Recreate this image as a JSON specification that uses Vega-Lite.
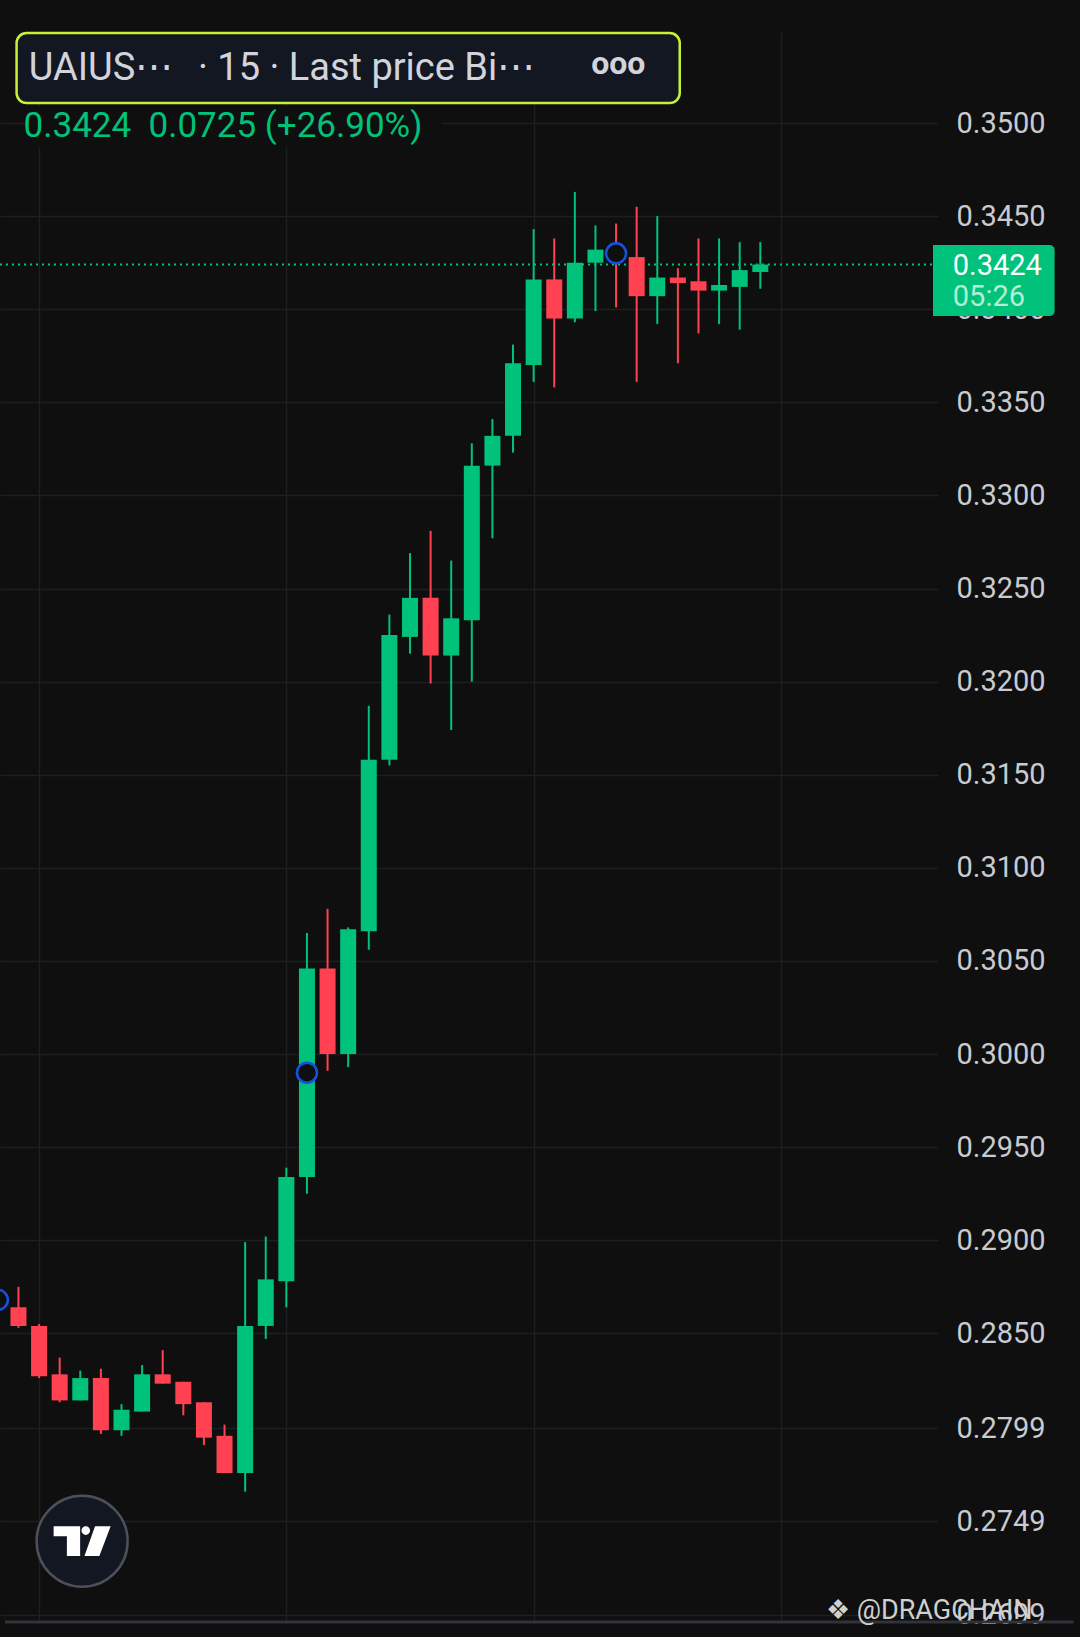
{
  "$schema": "https://vega.github.io/schema/vega-lite/v6.json",
  "background": "#0f0f0f",
  "autosize": {"type": "none"},
  "padding": {"left": 0, "top": 32, "right": 142, "bottom": 15},
  "width": 938,
  "height": 1590,
  "config": {"view": {"stroke": null}, "font": "Roboto", "text": {"font": "Roboto"}},
  "datasets": {
    "candles": [
      {"t": 0, "open": 0.2864, "high": 0.2875, "low": 0.2853, "close": 0.2854},
      {"t": 1, "open": 0.2854, "high": 0.2855, "low": 0.2826, "close": 0.2827},
      {"t": 2, "open": 0.2828, "high": 0.2837, "low": 0.2813, "close": 0.2814},
      {"t": 3, "open": 0.2814, "high": 0.2830, "low": 0.2814, "close": 0.2826},
      {"t": 4, "open": 0.2826, "high": 0.2831, "low": 0.2796, "close": 0.2798},
      {"t": 5, "open": 0.2798, "high": 0.2812, "low": 0.2795, "close": 0.2809},
      {"t": 6, "open": 0.2808, "high": 0.2833, "low": 0.2808, "close": 0.2828},
      {"t": 7, "open": 0.2828, "high": 0.2841, "low": 0.2823, "close": 0.2823},
      {"t": 8, "open": 0.2824, "high": 0.2824, "low": 0.2806, "close": 0.2812},
      {"t": 9, "open": 0.2813, "high": 0.2813, "low": 0.2790, "close": 0.2794},
      {"t": 10, "open": 0.2795, "high": 0.2801, "low": 0.2775, "close": 0.2775},
      {"t": 11, "open": 0.2775, "high": 0.2899, "low": 0.2765, "close": 0.2854},
      {"t": 12, "open": 0.2854, "high": 0.2902, "low": 0.2847, "close": 0.2879},
      {"t": 13, "open": 0.2878, "high": 0.2939, "low": 0.2864, "close": 0.2934},
      {"t": 14, "open": 0.2934, "high": 0.3065, "low": 0.2925, "close": 0.3046},
      {"t": 15, "open": 0.3046, "high": 0.3078, "low": 0.2991, "close": 0.3000},
      {"t": 16, "open": 0.3000, "high": 0.3068, "low": 0.2993, "close": 0.3067},
      {"t": 17, "open": 0.3066, "high": 0.3187, "low": 0.3056, "close": 0.3158},
      {"t": 18, "open": 0.3158, "high": 0.3236, "low": 0.3155, "close": 0.3225},
      {"t": 19, "open": 0.3224, "high": 0.3269, "low": 0.3215, "close": 0.3245},
      {"t": 20, "open": 0.3245, "high": 0.3281, "low": 0.3199, "close": 0.3214},
      {"t": 21, "open": 0.3214, "high": 0.3265, "low": 0.3174, "close": 0.3234},
      {"t": 22, "open": 0.3233, "high": 0.3328, "low": 0.3200, "close": 0.3316},
      {"t": 23, "open": 0.3316, "high": 0.3341, "low": 0.3277, "close": 0.3332},
      {"t": 24, "open": 0.3332, "high": 0.3381, "low": 0.3323, "close": 0.3371},
      {"t": 25, "open": 0.3370, "high": 0.3443, "low": 0.3361, "close": 0.3416},
      {"t": 26, "open": 0.3416, "high": 0.3438, "low": 0.3358, "close": 0.3395},
      {"t": 27, "open": 0.3395, "high": 0.3463, "low": 0.3393, "close": 0.3425},
      {"t": 28, "open": 0.3425, "high": 0.3445, "low": 0.3399, "close": 0.3432},
      {"t": 29, "open": 0.3432, "high": 0.3446, "low": 0.3401, "close": 0.3429},
      {"t": 30, "open": 0.3428, "high": 0.3455, "low": 0.3361, "close": 0.3407},
      {"t": 31, "open": 0.3407, "high": 0.3450, "low": 0.3392, "close": 0.3417},
      {"t": 32, "open": 0.3417, "high": 0.3422, "low": 0.3371, "close": 0.3414},
      {"t": 33, "open": 0.3415, "high": 0.3438, "low": 0.3387, "close": 0.3410},
      {"t": 34, "open": 0.3410, "high": 0.3438, "low": 0.3392, "close": 0.3413},
      {"t": 35, "open": 0.3412, "high": 0.3436, "low": 0.3389, "close": 0.3421},
      {"t": 36, "open": 0.3420, "high": 0.3436, "low": 0.3411, "close": 0.3424}
    ],
    "markers": [
      {"t": -1, "price": 0.2868},
      {"t": 14, "price": 0.2990},
      {"t": 29, "price": 0.3430}
    ]
  },
  "layer": [
    {
      "data": {"name": "candles"},
      "mark": {"type": "rule", "strokeWidth": 2},
      "encoding": {
        "x": {
          "field": "t",
          "type": "quantitative",
          "scale": {"domain": [-0.653, 44.38], "nice": false, "zero": false},
          "axis": {
            "values": [1, 13, 25, 37],
            "grid": true,
            "gridColor": "#1e1f22",
            "gridWidth": 1.5,
            "labels": false,
            "ticks": false,
            "domain": false,
            "title": null
          }
        },
        "y": {
          "field": "low",
          "type": "quantitative",
          "scale": {"domain": [0.2695, 0.354887], "nice": false, "zero": false},
          "axis": {
            "orient": "right",
            "values": [0.35, 0.345, 0.34, 0.335, 0.33, 0.325, 0.32, 0.315, 0.31, 0.305, 0.3, 0.295, 0.29, 0.285, 0.2799, 0.2749, 0.2699],
            "format": ".4f",
            "grid": true,
            "gridColor": "#1e1f22",
            "gridWidth": 1.5,
            "ticks": false,
            "domain": false,
            "labelPadding": 18,
            "labelFont": "Roboto",
            "labelFontSize": 29,
            "labelColor": "#c9cbd0",
            "title": null
          }
        },
        "y2": {"field": "high"},
        "color": {
          "condition": {"test": "datum.close >= datum.open", "value": "#00c27b"},
          "value": "#ff4152"
        }
      }
    },
    {
      "data": {"values": [{}]},
      "mark": {"type": "rule", "color": "#00c27b", "strokeWidth": 2, "strokeDash": [2, 4]},
      "encoding": {"y": {"datum": 0.3424}}
    },
    {
      "data": {"name": "candles"},
      "mark": {"type": "bar", "width": 16},
      "encoding": {
        "x": {"field": "t", "type": "quantitative"},
        "y": {"field": "open", "type": "quantitative"},
        "y2": {"field": "close"},
        "color": {
          "condition": {"test": "datum.close >= datum.open", "value": "#00c27b"},
          "value": "#ff4152"
        }
      }
    },
    {
      "data": {"name": "markers"},
      "mark": {"type": "point", "shape": "circle", "filled": true, "color": "#0f0f0f", "stroke": "#1652e0", "strokeWidth": 2.5, "size": 400, "opacity": 1},
      "encoding": {
        "x": {"field": "t", "type": "quantitative"},
        "y": {"field": "price", "type": "quantitative"}
      }
    },
    {
      "data": {"values": [{}]},
      "mark": {"type": "rect", "fill": "#131722", "stroke": "#c6f135", "strokeWidth": 2.5, "cornerRadius": 10},
      "encoding": {
        "x": {"datum": -0.091},
        "x2": {"datum": 32.09},
        "y": {"datum": 0.35483},
        "y2": {"datum": 0.35107}
      }
    },
    {
      "data": {"values": [{}]},
      "mark": {"type": "text", "text": "UAIUS⋯", "align": "left", "baseline": "alphabetic", "fontSize": 38, "color": "#d1d4dc"},
      "encoding": {"x": {"datum": 0.5}, "y": {"datum": 0.352309}}
    },
    {
      "data": {"values": [{}]},
      "mark": {"type": "text", "text": "· 15 · Last price Bi⋯", "align": "left", "baseline": "alphabetic", "fontSize": 38, "color": "#d1d4dc"},
      "encoding": {"x": {"datum": 8.71}, "y": {"datum": 0.352309}}
    },
    {
      "data": {"values": [{}]},
      "mark": {"type": "text", "text": "ooo", "align": "center", "baseline": "middle", "fontSize": 32, "fontWeight": "bold", "color": "#d1d4dc"},
      "encoding": {"x": {"datum": 29.11}, "y": {"datum": 0.35315}}
    },
    {
      "data": {"values": [{}]},
      "mark": {"type": "rect", "fill": "#0f0f0f"},
      "encoding": {
        "x": {"datum": 0.31},
        "x2": {"datum": 20.52},
        "y": {"datum": 0.35091},
        "y2": {"datum": 0.348711}
      }
    },
    {
      "data": {"values": [{}]},
      "mark": {"type": "text", "text": "0.3424\u00a0\u00a00.0725 (+26.90%)", "align": "left", "baseline": "alphabetic", "fontSize": 35, "color": "#00c27b"},
      "encoding": {"x": {"datum": 0.25}, "y": {"datum": 0.349248}}
    },
    {
      "data": {"values": [{}]},
      "mark": {"type": "rect", "fill": "#00c27b", "cornerRadiusTopRight": 5, "cornerRadiusBottomRight": 5},
      "encoding": {
        "x": {"datum": 44.38},
        "x2": {"datum": 50.28},
        "y": {"datum": 0.34345},
        "y2": {"datum": 0.33964}
      }
    },
    {
      "data": {"values": [{}]},
      "mark": {"type": "text", "text": "0.3424", "align": "left", "baseline": "middle", "fontSize": 29, "color": "#ffffff"},
      "encoding": {"x": {"datum": 45.34}, "y": {"datum": 0.34232}}
    },
    {
      "data": {"values": [{}]},
      "mark": {"type": "text", "text": "05:26", "align": "left", "baseline": "middle", "fontSize": 29, "color": "#b3eed5"},
      "encoding": {"x": {"datum": 45.34}, "y": {"datum": 0.34066}}
    },
    {
      "data": {"values": [{}]},
      "mark": {"type": "point", "shape": "circle", "filled": true, "color": "#131722", "stroke": "#4d5059", "strokeWidth": 2.5, "size": 8281, "opacity": 1},
      "encoding": {"x": {"datum": 3.09}, "y": {"datum": 0.27384}}
    },
    {
      "data": {"values": [{}]},
      "mark": {
        "type": "point",
        "shape": "M-1,-0.523L-0.07,-0.523L-0.07,0.523L-0.535,0.523L-0.535,-0.174L-1,-0.174ZM-0.023,-0.372A0.151,0.151,0,1,0,0.279,-0.372A0.151,0.151,0,1,0,-0.023,-0.372ZM0.453,-0.523L1,-0.523L0.605,0.523L0.081,0.523Z",
        "filled": true,
        "color": "#ffffff",
        "size": 3249,
        "opacity": 1
      },
      "encoding": {"x": {"datum": 3.09}, "y": {"datum": 0.27384}}
    },
    {
      "data": {"values": [{}]},
      "mark": {"type": "rule", "color": "#30333b", "strokeWidth": 3},
      "encoding": {
        "x": {"datum": -0.653},
        "x2": {"datum": 51.2},
        "y": {"datum": 0.2695}
      }
    },
    {
      "data": {"values": [{}]},
      "mark": {"type": "text", "text": "❖ @DRAGCHAIN", "align": "left", "baseline": "middle", "fontSize": 27, "color": "#d0d0d0"},
      "encoding": {"x": {"datum": 39.19}, "y": {"datum": 0.27009}}
    }
  ]
}
